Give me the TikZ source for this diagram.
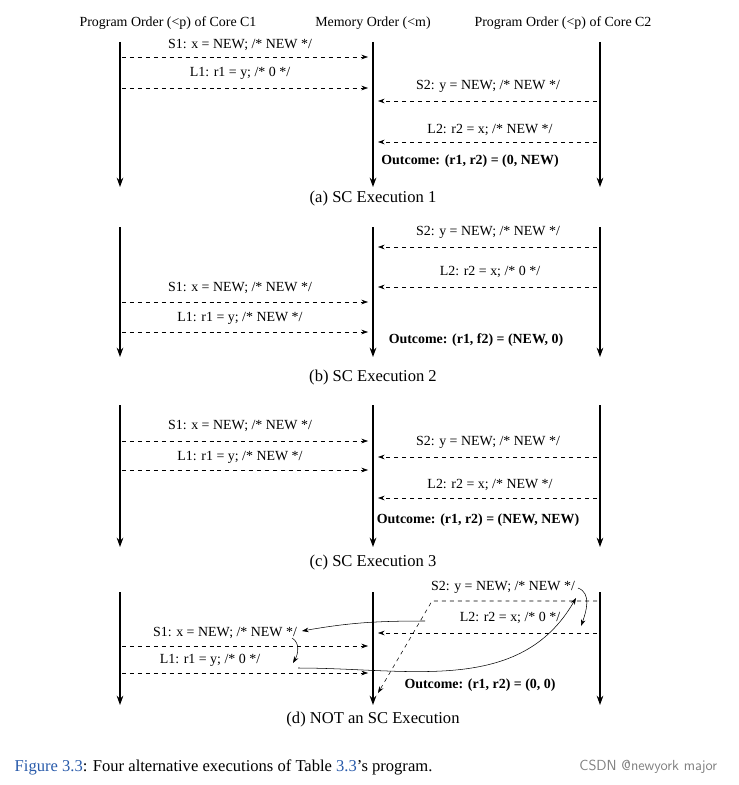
\documentclass[tikz,border=0pt]{standalone}
\usepackage{fontspec}
\setmainfont{Liberation Serif}
\usetikzlibrary{arrows.meta, positioning}
\definecolor{figblue}{RGB}{40,90,170}
\tikzset{
  lane/.style={thick,-{Stealth[length=7pt,width=5pt]}},
  msg/.style={dashed,-{Stealth[length=5pt,width=3.5pt]}},
  lbl/.style={font=\fontsize{10.5}{12}\selectfont,inner sep=1pt},
  outcome/.style={font=\fontsize{10.5}{12}\selectfont\bfseries,inner sep=1pt},
  caption/.style={font=\fontsize{12.5}{14}\selectfont},
  hop/.style={-{Stealth[length=5pt,width=3.5pt]}}
}
\begin{document}
\begin{tikzpicture}[x=0.0265cm,y=-0.0265cm]
\useasboundingbox (0,0) rectangle (738,785);
% Headers
\node[lbl] (H1) at (168,23) {Program Order (<p) of Core C1};
\node[lbl] (HM) at (373,23) {Memory Order (<m)};
\node[lbl] (H2) at (563,23) {Program Order (<p) of Core C2};
% Lanes
\foreach \t/\b/\n in {42/187/a,227/357/b,405/547/c,592/705/d}{
  \coordinate (C1t\n) at (120,\t); \coordinate (C1b\n) at (120,\b);
  \coordinate (Mt\n) at (373,\t);  \coordinate (Mb\n) at (373,\b);
  \coordinate (C2t\n) at (600,\t); \coordinate (C2b\n) at (600,\b);
  \draw[lane] (C1t\n) -- (C1b\n);
  \draw[lane,very thick] (Mt\n) -- (Mb\n);
  \draw[lane] (C2t\n) -- (C2b\n);
}
% Messages
\foreach \y/\n in {57/S1a,88/L1a,646/S1d,673/L1d,302/S1b,332/L1b,441/S1c,470/L1c}{
  \coordinate (\n s) at (122,\y); \coordinate (\n e) at (368,\y);
  \draw[msg] (\n s) -- (\n e);
}
\foreach \y/\n in {101/S2a,142/L2a,247/S2b,287/L2b,457/S2c,498/L2c,633/L2d}{
  \coordinate (\n s) at (597,\y); \coordinate (\n e) at (378,\y);
  \draw[msg] (\n s) -- (\n e);
}
% (a)
\node[lbl] (tS1a) at (240,45) {S1: x = NEW; /* NEW */};
\node[lbl] (tL1a) at (240,73) {L1: r1 = y; /* 0 */};
\node[lbl] (tS2a) at (488,86) {S2: y = NEW; /* NEW */};
\node[lbl] (tL2a) at (490,130) {L2: r2 = x; /* NEW */};
\node[outcome] (Oa) at (470,161) {Outcome: (r1, r2) = (0, NEW)};
\node[caption] (Ka) at (373,199) {(a) SC Execution 1};
% (b)
\node[lbl] (tS2b) at (488,232) {S2: y = NEW; /* NEW */};
\node[lbl] (tL2b) at (490,272) {L2: r2 = x; /* 0 */};
\node[lbl] (tS1b) at (240,288) {S1: x = NEW; /* NEW */};
\node[lbl] (tL1b) at (240,318) {L1: r1 = y; /* NEW */};
\node[outcome] (Ob) at (476,340) {Outcome: (r1, f2) = (NEW, 0)};
\node[caption] (Kb) at (373,378) {(b) SC Execution 2};
% (c)
\node[lbl] (tS1c) at (240,426) {S1: x = NEW; /* NEW */};
\node[lbl] (tL1c) at (240,457) {L1: r1 = y; /* NEW */};
\node[lbl] (tS2c) at (488,442) {S2: y = NEW; /* NEW */};
\node[lbl] (tL2c) at (490,485) {L2: r2 = x; /* NEW */};
\node[outcome] (Oc) at (478,520) {Outcome: (r1, r2) = (NEW, NEW)};
\node[caption] (Kc) at (373,563) {(c) SC Execution 3};
% (d)
\coordinate (S2ds) at (597,601);
\coordinate (S2dk) at (432,601);
\coordinate (S2de) at (378,693);
\draw[msg] (S2ds) -- (S2dk) -- (S2de);
\node[lbl] (tS2d) at (503,587) {S2: y = NEW; /* NEW */};
\node[lbl] (tL2d) at (510,618) {L2: r2 = x; /* 0 */};
\node[lbl] (tS1d) at (225,633) {S1: x = NEW; /* NEW */};
\node[lbl] (tL1d) at (210,660) {L1: r1 = y; /* 0 */};
\node[outcome] (Od) at (480,685) {Outcome: (r1, r2) = (0, 0)};
\node[caption] (Kd) at (373,720) {(d) NOT an SC Execution};
% Conflict cycle
\coordinate (l2o) at (425,621);
\coordinate (s1i) at (302,631);
\coordinate (s1o) at (292,638);
\coordinate (l1i) at (293,663);
\coordinate (l1o) at (298,668);
\coordinate (s2i) at (576,598);
\coordinate (s2o) at (578,588);
\coordinate (l2i) at (581,626);
\draw[hop] (l2o) to[out=180,in=10] (s1i);
\draw[hop] (s1o) to[out=-30,in=60] (l1i);
\draw[hop] (l1o) to[out=0,in=-120] (s2i);
\draw[hop] (s2o) to[out=-20,in=70] (l2i);
% Caption
\node[caption,anchor=west] (Fig) at (10,767) {\textcolor{figblue}{Figure 3.3}: Four alternative executions of Table \textcolor{figblue}{3.3}'s program.};
\node[font=\fontsize{11}{13}\selectfont\sffamily,text=gray,anchor=east] (Wm) at (722,767) {CSDN @newyork major};
\end{tikzpicture}
\end{document}
